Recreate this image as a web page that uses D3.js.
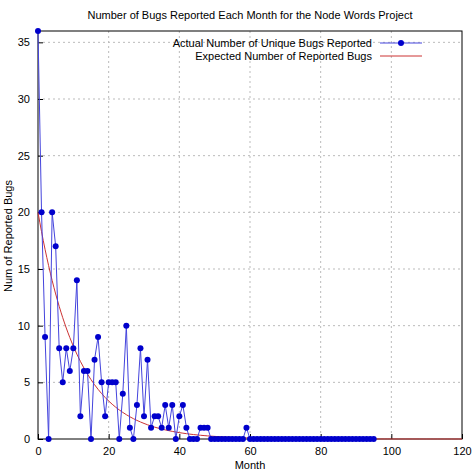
<!DOCTYPE html>
<html><head><meta charset="utf-8">
<script src="https://cdn.jsdelivr.net/npm/d3@7"></script>
<style>body{margin:0;background:#fff}text{font-family:"Liberation Sans",Arial,sans-serif}</style>
</head><body><svg id="c" width="474" height="474"></svg>
<script>
const actualBugs = [36,20,9,0,20,17,8,5,8,6,8,14,2,6,6,0,7,9,5,2,5,5,5,0,4,10,1,0,3,8,2,7,1,2,2,1,3,1,3,0,2,3,1,0,0,0,1,1,1,0,0,0,0,0,0,0,0,0,0,1,0,0,0,0,0,0,0,0,0,0,0,0,0,0,0,0,0,0,0,0,0,0,0,0,0,0,0,0,0,0,0,0,0,0,0,0];
const expectedA = 20, expectedTau = 11.2;
const xTicks = [0,20,40,60,80,100,120];
const yTicks = [0,5,10,15,20,25,30,35];
const svg = d3.select("#c");
const L=38,R=462,T=31,B=439;
const x = d3.scaleLinear().domain([0,120]).range([L,R]);
const y = d3.scaleLinear().domain([0,36]).range([B,T]);
const g = svg.append("g");
g.selectAll(".gx").data(xTicks.slice(1,-1)).join("line").attr("x1",d=>x(d)).attr("x2",d=>x(d)).attr("y1",T).attr("y2",B).attr("stroke","#bbb").attr("stroke-dasharray","2,3");
g.selectAll(".gy").data(yTicks.slice(1)).join("line").attr("y1",d=>y(d)).attr("y2",d=>y(d)).attr("x1",L).attr("x2",R).attr("stroke","#bbb").attr("stroke-dasharray","2,3");
g.append("rect").attr("x",L).attr("y",T).attr("width",R-L).attr("height",B-T).attr("fill","none").attr("stroke","#000");
const xa = svg.append("g").attr("transform",`translate(0,${B})`).call(d3.axisBottom(x).tickValues(xTicks).tickSize(-5).tickPadding(8));
const ya = svg.append("g").attr("transform",`translate(${L},0)`).call(d3.axisLeft(y).tickValues(yTicks).tickSize(-5).tickPadding(8));
[xa,ya].forEach(a=>{a.select(".domain").remove();a.selectAll("text").attr("font-size",11).attr("font-family","Liberation Sans");});
svg.append("text").attr("x",250).attr("y",19).attr("text-anchor","middle").attr("font-size",11).text("Number of Bugs Reported Each Month for the Node Words Project");
svg.append("text").attr("x",250).attr("y",469).attr("text-anchor","middle").attr("font-size",11).text("Month");
svg.append("text").attr("transform","translate(12,236) rotate(-90)").attr("text-anchor","middle").attr("font-size",11).text("Num of Reported Bugs");
const months = d3.range(0,121);
svg.append("path").datum(months).attr("fill","none").attr("stroke","#cc3333").attr("stroke-width",1)
 .attr("d",d3.line().x(d=>x(d)).y(d=>y(expectedA*Math.exp(-d/expectedTau))).curve(d3.curveMonotoneX));
svg.append("path").datum(actualBugs).attr("fill","none").attr("stroke","#4444dd").attr("stroke-width",1)
 .attr("d",d3.line().x((d,i)=>x(i)).y(d=>y(d)));
svg.selectAll(".pt").data(actualBugs).join("circle").attr("cx",(d,i)=>x(i)).attr("cy",d=>y(d)).attr("r",3).attr("fill","#0000cc");
svg.append("text").attr("x",372).attr("y",47).attr("text-anchor","end").attr("font-size",11).text("Actual Number of Unique Bugs Reported");
svg.append("line").attr("x1",380).attr("x2",422).attr("y1",43).attr("y2",43).attr("stroke","#4444dd");
svg.append("circle").attr("cx",401).attr("cy",43).attr("r",3).attr("fill","#0000cc");
svg.append("text").attr("x",372).attr("y",60).attr("text-anchor","end").attr("font-size",11).text("Expected Number of Reported Bugs");
svg.append("line").attr("x1",380).attr("x2",422).attr("y1",56).attr("y2",56).attr("stroke","#cc3333");
</script></body></html>
